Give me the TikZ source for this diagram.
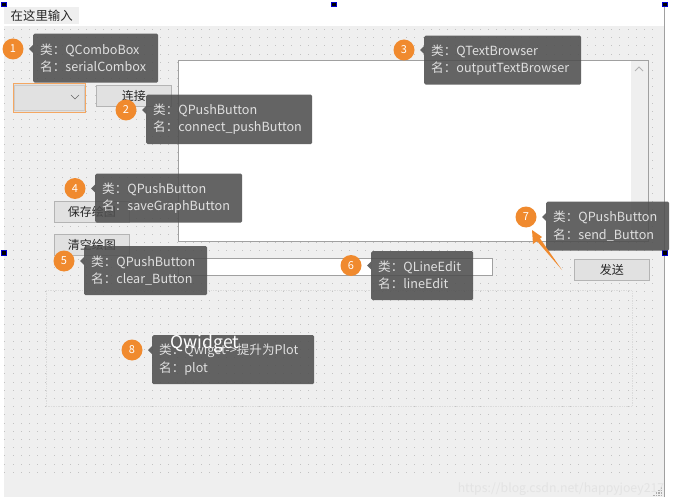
\documentclass[tikz,border=0pt]{standalone}
\usepackage{fontspec}
\setmainfont{Noto Sans CJK SC}
\usetikzlibrary{arrows.meta,calc}
\definecolor{formbg}{HTML}{EFEFEF}
\definecolor{btnbg}{HTML}{E1E1E1}
\definecolor{btnline}{HTML}{B4B4B4}
\definecolor{framel}{HTML}{A0A0A0}
\definecolor{tip}{HTML}{4E4E4E}
\definecolor{badge}{HTML}{F08A2E}
\definecolor{dotc}{HTML}{C2C2C2}
\tikzset{
  x=1pt,y=-1pt,
  btn/.style={draw=btnline,fill=btnbg,line width=.9pt,text=black!85,font=\fontsize{12}{13}\selectfont,inner sep=0pt,anchor=north west},
  frame/.style={draw=framel,fill=white,line width=.9pt,inner sep=0pt,anchor=north west},
  handle/.style={draw=blue!80!black,fill=black,line width=.6pt,minimum size=4.6pt,inner sep=0pt},
  badgec/.style={circle,fill=badge,text=white,minimum size=21pt,inner sep=0pt,font=\fontsize{11}{12}\selectfont},
  tipbox/.style={fill=tip,fill opacity=.87,rounded corners=1.5pt,inner sep=0pt,anchor=north west},
  tiptext/.style={anchor=west,inner sep=0pt,text=white!88!black,font=\fontsize{12.6}{17.4}\selectfont,align=left},
}
\newcommand{\callout}[9]{%
  % #1 id, #2 number, #3 cx, #4 cy, #5 box x, #6 box y, #7 w, #8 h, #9 text
  \node[tipbox,minimum width=#7pt,minimum height=#8pt] (box#1) at (#5,#6) {};
  \fill[tip,fill opacity=.87] (#5,#4-4) -- (#5-4,#4) -- (#5,#4+4) -- cycle;
  \node[badgec] (c#1) at (#3,#4) {#2};
  \node[tiptext] (t#1) at (#5+7,#6+24.5) {#9};
}
\begin{document}
\begin{tikzpicture}
\useasboundingbox (0,0) rectangle (674,497);
\fill[white] (0,0) rectangle (674,497);
\fill[formbg] (4,26) rectangle (664.5,497);
% grid dots
\foreach \gx in {4.3,12.5,...,660} \foreach \gy in {29,37.2,...,473}
  {\fill[dotc] (\gx,\gy) rectangle ++(1,1);}
\draw[framel,line width=.7pt] (664.7,4) -- (664.7,497);
% menu
\node[fill=formbg,minimum width=75pt,minimum height=17pt,inner sep=0pt,anchor=north west,font=\fontsize{12.4}{13}\selectfont,text=black!85] (menu) at (4,7) {在这里输入};
% handles
\node[handle] (h1) at (3.5,4.5) {};
\node[handle] (h2) at (334,4.5) {};
\node[handle] (h3) at (665,4.5) {};
\node[handle] (h4) at (3.5,252.5) {};
\node[handle] (h5) at (665,252.5) {};
% widgets
\node[draw=badge!75,fill=btnbg,line width=.8pt,minimum width=72pt,minimum height=29pt,inner sep=0pt,anchor=north west] (combo) at (13,83) {};
\node[draw=btnline!70,fill=btnbg,line width=.5pt,minimum width=70pt,minimum height=25pt,inner sep=0pt] (comboin) at (combo.center) {};
\draw[black!60,line width=.7pt] (71,95) -- (75,99) -- (79,95);
\node[btn,minimum width=75pt,minimum height=21pt] (connect) at (96,85.5) {连接};
\node[frame,minimum width=470pt,minimum height=180.5pt] (browser) at (178,60.5) {};
\fill[formbg] (631,61) rectangle (648,240.5);
\draw[black!30,line width=.9pt] (635,71) -- (639,67) -- (643,71);
\node[btn,minimum width=75pt,minimum height=21pt] (save) at (54,201) {保存绘图};
\node[btn,minimum width=75pt,minimum height=21pt] (clear) at (54,234) {清空绘图};
\node[frame,minimum width=313.5pt,minimum height=16.5pt] (edit) at (178,258) {};
\node[btn,minimum width=75pt,minimum height=21pt] (send) at (574,258.5) {发送};
\node[draw=black!14,densely dotted,line width=.7pt,minimum width=586pt,minimum height=116pt,inner sep=0pt,anchor=north west] (plotarea) at (45.5,290) {};
% size grip
\foreach \gx/\gy in {660.5/487,658/489.5,660.5/489.5,655.5/492,658/492,660.5/492,653/494.5,655.5/494.5,658/494.5,660.5/494.5}
  {\fill[black!32] (\gx,\gy) rectangle ++(1.6,1.6);}
% callouts
\callout{1}{1}{13}{49}{33}{33.5}{125}{49}{类：QComboBox\\名：serialCombox}
\callout{2}{2}{126}{110}{146}{94.5}{166}{49.5}{类：QPushButton\\名：connect\_pushButton}
\callout{3}{3}{404}{50}{424}{35.5}{157}{49}{类：QTextBrowser\\名：outputTextBrowser}
\callout{4}{4}{75}{188.5}{95}{173.5}{147}{49}{类：QPushButton\\名：saveGraphButton}
\callout{5}{5}{64}{261}{84}{246}{123}{49}{类：QPushButton\\名：clear\_Button}
\callout{6}{6}{351}{265.5}{371}{251}{102}{49}{类：QLineEdit\\名：lineEdit}
\callout{7}{7}{526}{217}{546}{201.5}{123}{49}{类：QPushButton\\名：send\_Button}
\callout{8}{8}{132}{350}{152}{335}{162}{49}{类：Qwiget->提升为Plot\\名：plot}
% arrow of callout 7 (tapered, from free tail towards its badge)
\coordinate (tail) at (562,270);
\coordinate (atip) at ($(c7)+(6,13)$);
\fill[badge] (tail) -- (540,238.5) -- (542,237) -- (atip) -- (533,244) -- (537,241) -- cycle;
% texts
\node[text=white,inner sep=0pt,font=\fontsize{17.6}{19}\selectfont] (qw) at (205,343.5) {Qwidget};
\node[text=black!11,inner sep=0pt,font=\fontsize{12.3}{14}\selectfont] (wm) at (561,489) {https://blog.csdn.net/happyjoey217};
\end{tikzpicture}
\end{document}
